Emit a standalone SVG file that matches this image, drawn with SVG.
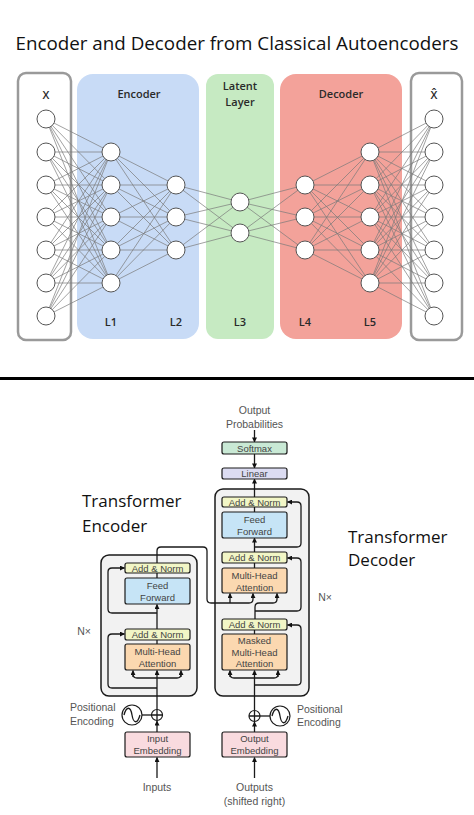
<svg xmlns="http://www.w3.org/2000/svg" width="474" height="815" viewBox="0 0 474 815">
<defs>
<marker id="ah" viewBox="0 0 6 6" refX="5.5" refY="3" markerWidth="5" markerHeight="5" markerUnits="userSpaceOnUse" orient="auto"><path d="M0,0 L6,3 L0,6 z" fill="#111"/></marker>
<style>
.t{font-family:"Open Sans","Noto Sans",sans-serif;fill:#111}
.lab{font-family:"Open Sans","Noto Sans",sans-serif;font-weight:600;font-size:11px;fill:#2a2a2a;text-anchor:middle}
.nn{fill:#fff;stroke:#555;stroke-width:1}
.nl{fill:none;stroke:#7a7a7a;stroke-width:0.7}
.bx{fill:#fff;stroke:#9a9a9a;stroke-width:2.5}
.bt{font-family:"Liberation Sans",Arial,sans-serif;font-size:9.5px;fill:#444;text-anchor:middle}
.gt{font-family:"Liberation Sans",Arial,sans-serif;font-size:10.5px;fill:#555}
.blk{fill:#f2f2f2;stroke:#1a1a1a;stroke-width:1.5}
.b{stroke:#1a1a1a;stroke-width:1.2}
.an{fill:#f2f6c6}
.ff{fill:#c6e4f6}
.mh{fill:#fbd8b0}
.sm{fill:#c9e9d5}
.ln{fill:#dcdcf2}
.em{fill:#f9dbdf}
.w{fill:none;stroke:#1a1a1a;stroke-width:1.3}
.wa{fill:none;stroke:#1a1a1a;stroke-width:1.3;marker-end:url(#ah)}
</style>
</defs>
<rect width="474" height="815" fill="#fff"/>

<!-- Autoencoder -->
<text class="t" x="237" y="50" font-size="18.8" text-anchor="middle" textLength="443" lengthAdjust="spacingAndGlyphs">Encoder and Decoder from Classical Autoencoders</text>

<g id="bg-boxes">
<rect class="bx" x="18" y="73" width="53" height="267" rx="8"/>
<rect x="77" y="74" width="122" height="265" rx="16" fill="#c8dbf6"/>
<rect x="206" y="74" width="68" height="265" rx="12" fill="#c6eac2"/>
<rect x="280" y="74" width="122" height="265" rx="16" fill="#f3a29a"/>
<rect class="bx" x="411" y="73" width="51" height="267" rx="8"/>
</g>

<g id="ae-connectors">
<path class="nl" d="M46 119L111 152M46 119L111 185M46 119L111 217M46 119L111 250M46 119L111 283
M46 152L111 152M46 152L111 185M46 152L111 217M46 152L111 250M46 152L111 283
M46 185L111 152M46 185L111 185M46 185L111 217M46 185L111 250M46 185L111 283
M46 217L111 152M46 217L111 185M46 217L111 217M46 217L111 250M46 217L111 283
M46 250L111 152M46 250L111 185M46 250L111 217M46 250L111 250M46 250L111 283
M46 283L111 152M46 283L111 185M46 283L111 217M46 283L111 250M46 283L111 283
M46 316L111 152M46 316L111 185M46 316L111 217M46 316L111 250M46 316L111 283"/>
<path class="nl" d="M111 152L176 185M111 152L176 217M111 152L176 250
M111 185L176 185M111 185L176 217M111 185L176 250
M111 217L176 185M111 217L176 217M111 217L176 250
M111 250L176 185M111 250L176 217M111 250L176 250
M111 283L176 185M111 283L176 217M111 283L176 250"/>
<path class="nl" d="M176 185L240 202M176 185L240 233M176 217L240 202M176 217L240 233M176 250L240 202M176 250L240 233"/>
<path class="nl" d="M240 202L305 185M240 202L305 217M240 202L305 250M240 233L305 185M240 233L305 217M240 233L305 250"/>
<path class="nl" d="M305 185L370 152M305 185L370 185M305 185L370 217M305 185L370 250M305 185L370 283
M305 217L370 152M305 217L370 185M305 217L370 217M305 217L370 250M305 217L370 283
M305 250L370 152M305 250L370 185M305 250L370 217M305 250L370 250M305 250L370 283"/>
<path class="nl" d="M370 152L434 119M370 152L434 152M370 152L434 185M370 152L434 217M370 152L434 250M370 152L434 283M370 152L434 316
M370 185L434 119M370 185L434 152M370 185L434 185M370 185L434 217M370 185L434 250M370 185L434 283M370 185L434 316
M370 217L434 119M370 217L434 152M370 217L434 185M370 217L434 217M370 217L434 250M370 217L434 283M370 217L434 316
M370 250L434 119M370 250L434 152M370 250L434 185M370 250L434 217M370 250L434 250M370 250L434 283M370 250L434 316
M370 283L434 119M370 283L434 152M370 283L434 185M370 283L434 217M370 283L434 250M370 283L434 283M370 283L434 316"/>
</g>

<g id="layer-x">
<text class="lab" x="46" y="99">X</text>
<circle class="nn" cx="46" cy="119" r="9"/><circle class="nn" cx="46" cy="152" r="9"/><circle class="nn" cx="46" cy="185" r="9"/><circle class="nn" cx="46" cy="217" r="9"/><circle class="nn" cx="46" cy="250" r="9"/><circle class="nn" cx="46" cy="283" r="9"/><circle class="nn" cx="46" cy="316" r="9"/>
</g>
<g id="layer-l1">
<text class="lab" x="139" y="98">Encoder</text>
<circle class="nn" cx="111" cy="152" r="9"/><circle class="nn" cx="111" cy="185" r="9"/><circle class="nn" cx="111" cy="217" r="9"/><circle class="nn" cx="111" cy="250" r="9"/><circle class="nn" cx="111" cy="283" r="9"/>
<text class="lab" x="111" y="326">L1</text>
</g>
<g id="layer-l2">
<circle class="nn" cx="176" cy="185" r="9"/><circle class="nn" cx="176" cy="217" r="9"/><circle class="nn" cx="176" cy="250" r="9"/>
<text class="lab" x="176" y="326">L2</text>
</g>
<g id="layer-l3">
<text class="lab" x="240" y="90">Latent</text>
<text class="lab" x="240" y="106">Layer</text>
<circle class="nn" cx="240" cy="202" r="9"/><circle class="nn" cx="240" cy="233" r="9"/>
<text class="lab" x="240" y="326">L3</text>
</g>
<g id="layer-l4">
<text class="lab" x="341" y="98">Decoder</text>
<circle class="nn" cx="305" cy="185" r="9"/><circle class="nn" cx="305" cy="217" r="9"/><circle class="nn" cx="305" cy="250" r="9"/>
<text class="lab" x="305" y="326">L4</text>
</g>
<g id="layer-l5">
<circle class="nn" cx="370" cy="152" r="9"/><circle class="nn" cx="370" cy="185" r="9"/><circle class="nn" cx="370" cy="217" r="9"/><circle class="nn" cx="370" cy="250" r="9"/><circle class="nn" cx="370" cy="283" r="9"/>
<text class="lab" x="370" y="326">L5</text>
</g>
<g id="layer-xhat">
<text class="lab" x="434" y="99">X̂</text>
<circle class="nn" cx="434" cy="119" r="9"/><circle class="nn" cx="434" cy="152" r="9"/><circle class="nn" cx="434" cy="185" r="9"/><circle class="nn" cx="434" cy="217" r="9"/><circle class="nn" cx="434" cy="250" r="9"/><circle class="nn" cx="434" cy="283" r="9"/><circle class="nn" cx="434" cy="316" r="9"/>
</g>

<rect x="0" y="377" width="474" height="3" fill="#000"/>

<!-- Transformer -->
<text class="t" x="82" y="507" font-size="17">Transformer</text>
<text class="t" x="82" y="532" font-size="17">Encoder</text>
<text class="t" x="348" y="543" font-size="17">Transformer</text>
<text class="t" x="348" y="566" font-size="17">Decoder</text>

<g id="enc-block"><rect class="blk" x="101" y="555" width="96" height="141" rx="8"/></g>
<g id="dec-block"><rect class="blk" x="215" y="489" width="94" height="207" rx="8"/></g>

<g id="tf-connectors">
<path class="wa" d="M254.5 430V442"/>
<path class="wa" d="M254.5 454V468"/>
<path class="wa" d="M254.5 497V479"/>
<path class="w" d="M254.5 512V507"/>
<path class="wa" d="M254.5 552V538"/>
<path class="wa" d="M254.5 547H297Q301 547 301 543V506Q301 502 297 502H287.5"/>
<path class="w" d="M254.5 568V563"/>
<path class="wa" d="M157 563V551Q157 547 161 547H203Q207 547 207 551V599Q207 603 211 603H249Q253 603 253 599V593.5"/>
<path class="wa" d="M230 603V593.5"/>
<path class="wa" d="M255 619V607Q255 603 259 603H273Q277 603 277 599V593.5"/>
<path class="wa" d="M255 611H297Q301 611 301 607V562Q301 558 297 558H287.5"/>
<path class="w" d="M254.5 634V630"/>
<path class="wa" d="M255 685H297Q301 685 301 681V629Q301 625 297 625H287.5"/>
<path class="wa" d="M254.5 710V670.5"/>
<path class="wa" d="M230 677V670.5"/>
<path class="wa" d="M278 677V670.5"/>
<path class="w" d="M230 674Q230 678 234 678H274Q278 678 278 674"/>
<path class="w" d="M157 578V573"/>
<path class="wa" d="M157 629V604.5"/>
<path class="wa" d="M157 613H112Q108 613 108 609V572Q108 568 112 568H124.5"/>
<path class="w" d="M157 644V640"/>
<path class="wa" d="M157 688H112Q108 688 108 684V638Q108 634 112 634H124.5"/>
<path class="wa" d="M157 709.5V670.5"/>
<path class="wa" d="M133 677V670.5"/>
<path class="wa" d="M181 677V670.5"/>
<path class="w" d="M133 674Q133 678 137 678H177Q181 678 181 674"/>
<path class="wa" d="M157 732V721"/>
<path class="wa" d="M157 778V757.5"/>
<path class="wa" d="M254.5 732V722"/>
<path class="wa" d="M254.5 778V757.5"/>
<path class="w" d="M142 715H151.5"/>
<path class="w" d="M260 716H270"/>
</g>

<g id="out-probs">
<text class="gt" x="254.5" y="413.5" text-anchor="middle">Output</text>
<text class="gt" x="254.5" y="427.5" text-anchor="middle">Probabilities</text>
</g>
<g id="softmax"><rect class="sm b" x="222" y="442" width="65" height="12" rx="2"/><text class="bt" x="254.5" y="451.5">Softmax</text></g>
<g id="linear"><rect class="ln b" x="222" y="468" width="65" height="11" rx="2"/><text class="bt" x="254.5" y="477">Linear</text></g>

<g id="dec-addnorm1"><rect class="an b" x="222" y="497" width="65" height="10" rx="2"/><text class="bt" x="254.5" y="505.5">Add &amp; Norm</text></g>
<g id="dec-ff"><rect class="ff b" x="222" y="512" width="65" height="26" rx="2"/><text class="bt" x="254.5" y="523">Feed</text><text class="bt" x="254.5" y="534.5">Forward</text></g>
<g id="dec-addnorm2"><rect class="an b" x="222" y="552" width="65" height="11" rx="2"/><text class="bt" x="254.5" y="561">Add &amp; Norm</text></g>
<g id="dec-mha"><rect class="mh b" x="222" y="568" width="65" height="25" rx="2"/><text class="bt" x="254.5" y="579">Multi-Head</text><text class="bt" x="254.5" y="590.5">Attention</text></g>
<g id="dec-addnorm3"><rect class="an b" x="222" y="619" width="65" height="11" rx="2"/><text class="bt" x="254.5" y="628">Add &amp; Norm</text></g>
<g id="dec-masked"><rect class="mh b" x="222" y="634" width="65" height="36" rx="2"/><text class="bt" x="254.5" y="644">Masked</text><text class="bt" x="254.5" y="655.5">Multi-Head</text><text class="bt" x="254.5" y="667">Attention</text></g>

<g id="enc-addnorm1"><rect class="an b" x="125" y="563" width="65" height="10" rx="2"/><text class="bt" x="157.5" y="571.5">Add &amp; Norm</text></g>
<g id="enc-ff"><rect class="ff b" x="125" y="578" width="65" height="26" rx="2"/><text class="bt" x="157.5" y="589">Feed</text><text class="bt" x="157.5" y="600.5">Forward</text></g>
<g id="enc-addnorm2"><rect class="an b" x="125" y="629" width="65" height="11" rx="2"/><text class="bt" x="157.5" y="638">Add &amp; Norm</text></g>
<g id="enc-mha"><rect class="mh b" x="125" y="644" width="65" height="26" rx="2"/><text class="bt" x="157.5" y="655">Multi-Head</text><text class="bt" x="157.5" y="666.5">Attention</text></g>

<text class="gt" x="84" y="635" text-anchor="middle">N×</text>
<text class="gt" x="325" y="601" text-anchor="middle">N×</text>

<g id="enc-posenc">
<circle cx="157" cy="715" r="5.5" fill="#fff" stroke="#1a1a1a" stroke-width="1.2"/>
<path class="w" d="M151.5 715H162.5M157 709.5V720.5" stroke-width="1"/>
<circle cx="132" cy="715" r="10" fill="#fff" stroke="#1a1a1a" stroke-width="1.2"/>
<path class="w" d="M124 715C126.5 706 130.5 706 132 715C133.5 724 137.5 724 140 715"/>
<text class="gt" x="70" y="711">Positional</text>
<text class="gt" x="70" y="724.5">Encoding</text>
</g>
<g id="dec-posenc">
<circle cx="254.5" cy="716" r="5.5" fill="#fff" stroke="#1a1a1a" stroke-width="1.2"/>
<path class="w" d="M249 716H260M254.5 710.5V721.5" stroke-width="1"/>
<circle cx="280" cy="716" r="10" fill="#fff" stroke="#1a1a1a" stroke-width="1.2"/>
<path class="w" d="M272 716C274.5 707 278.5 707 280 716C281.5 725 285.5 725 288 716"/>
<text class="gt" x="297" y="712.5">Positional</text>
<text class="gt" x="297" y="726">Encoding</text>
</g>

<g id="input-emb"><rect class="em b" x="125" y="732" width="65" height="25" rx="2"/><text class="bt" x="157.5" y="742">Input</text><text class="bt" x="157.5" y="753.5">Embedding</text></g>
<g id="output-emb"><rect class="em b" x="222" y="732" width="65" height="25" rx="2"/><text class="bt" x="254.5" y="742">Output</text><text class="bt" x="254.5" y="753.5">Embedding</text></g>

<text class="gt" x="157" y="791" text-anchor="middle">Inputs</text>
<text class="gt" x="254.5" y="791" text-anchor="middle">Outputs</text>
<text class="gt" x="254.5" y="805" text-anchor="middle">(shifted right)</text>
</svg>
